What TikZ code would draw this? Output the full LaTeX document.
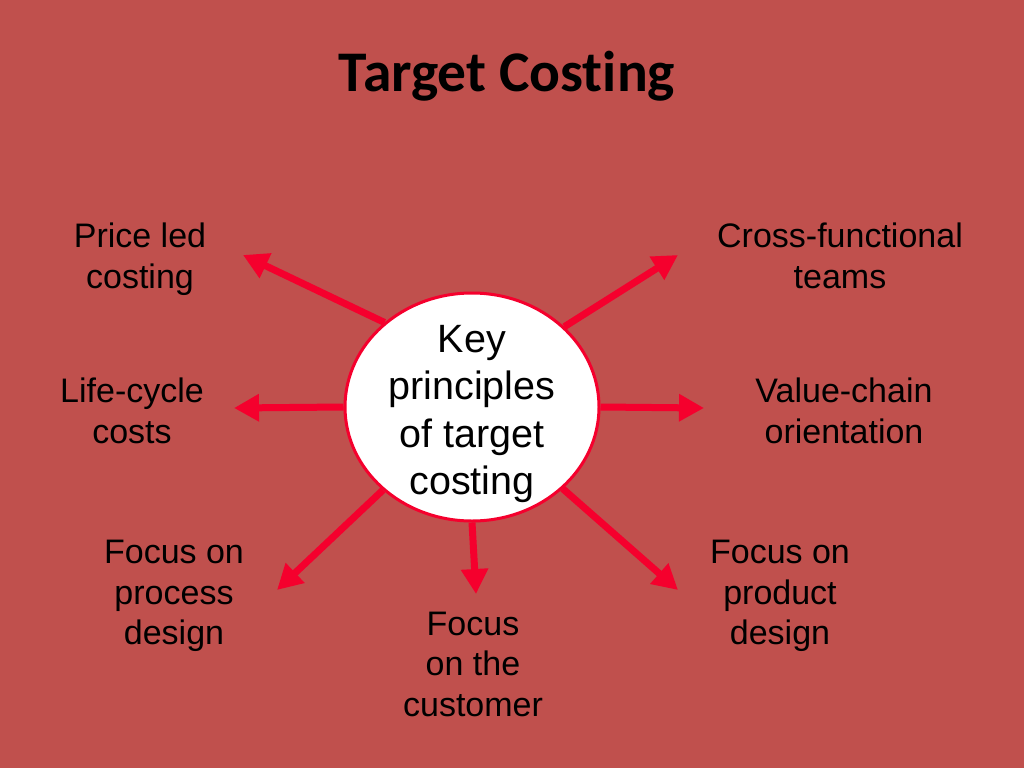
\documentclass[tikz,border=0pt]{standalone}
\usepackage{fontspec}
\setmainfont{Liberation Sans}
\newfontfamily\titlefont[Ligatures=NoCommon]{Carlito}
\usetikzlibrary{arrows.meta,shapes.geometric}
\definecolor{bg}{HTML}{C0504D}
\definecolor{arr}{HTML}{F5002D}
\begin{document}
\begin{tikzpicture}[x=1pt,y=-1pt,
  lbl/.style={align=center,font=\fontsize{34}{40.5}\selectfont,text=black,inner sep=0pt},
  spoke/.style={draw=arr,line width=7pt,-{Triangle[length=25pt,width=26pt]}}]
\fill[bg] (0,0) rectangle (1024,768);
\useasboundingbox (0,0) rectangle (1024,768);
\node[font=\titlefont\bfseries\fontsize{57.5}{60}\selectfont,inner sep=0pt] (title) at (507,76) {Target Costing};
\node[ellipse,draw=arr,line width=3pt,fill=white,minimum width=254pt,minimum height=228pt,inner sep=0pt] (c) at (472,407) {};
\node[align=center,font=\fontsize{39.5}{47.5}\selectfont,inner sep=0pt] (ct) at (472,414) {Key\\principles\\of target\\costing};
\coordinate (t1) at (243,255);
\coordinate (t2) at (678,255);
\coordinate (t3) at (234,408);
\coordinate (t4) at (704,408);
\coordinate (t5) at (277,590);
\coordinate (t6) at (476,594);
\coordinate (t7) at (678,590);
\draw[spoke] (c.136.7) -- (t1);
\draw[spoke] (c.41.3) -- (t2);
\draw[spoke] (c.west) -- (t3);
\draw[spoke] (c.east) -- (t4);
\draw[spoke] (c.223.7) -- (t5);
\draw[spoke] (c.270) -- (t6);
\draw[spoke] (c.318.2) -- (t7);
\node[lbl] (l1) at (140,259) {Price led\\costing};
\node[lbl] (l2) at (840,256) {Cross-functional\\teams};
\node[lbl] (l3) at (132,411) {Life-cycle\\costs};
\node[lbl] (l4) at (844,411) {Value-chain\\orientation};
\node[lbl] (l5) at (174,596) {Focus on\\process\\design};
\node[lbl] (l6) at (473,664) {Focus\\on the\\customer};
\node[lbl] (l7) at (780,596) {Focus on\\product\\design};
\end{tikzpicture}
\end{document}
